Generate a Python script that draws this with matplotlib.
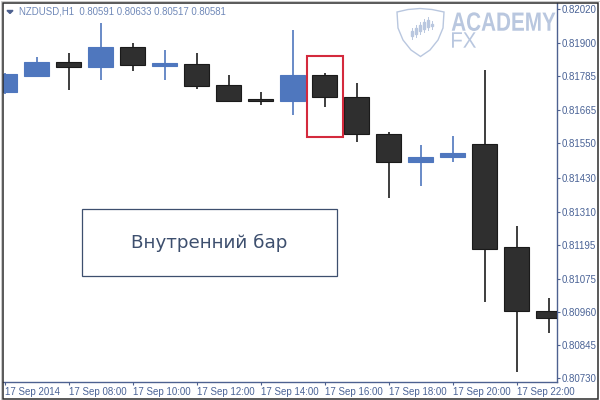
import numpy as np
import matplotlib.pyplot as plt
from matplotlib.patches import Rectangle, Polygon, PathPatch
from matplotlib.textpath import TextPath
from matplotlib.font_manager import FontProperties
from matplotlib.transforms import Affine2D, IdentityTransform

# hourly NZDUSD candles, 17 Sep 2014 06:00 .. 23:00
hours = [6, 7, 8, 9, 10, 11, 12, 13, 14, 15, 16, 17, 18, 19, 20, 21, 22, 23]
opens = [0.81731, 0.81787, 0.81835, 0.81818, 0.81887, 0.81822, 0.81828, 0.81754, 0.81706,
         0.81699, 0.81789, 0.81712, 0.81582, 0.81486, 0.81503, 0.81548, 0.81186, 0.80963]
highs = [0.81795, 0.81852, 0.81866, 0.81971, 0.81901, 0.81877, 0.81866, 0.81789, 0.81730,
         0.81947, 0.81796, 0.81761, 0.81589, 0.81544, 0.81576, 0.81807, 0.81261, 0.81008]
lows = [0.81723, 0.81787, 0.81738, 0.81773, 0.81804, 0.81773, 0.81741, 0.81698, 0.81685,
        0.81650, 0.81678, 0.81556, 0.81360, 0.81402, 0.81486, 0.80996, 0.80751, 0.80887]
closes = [0.81793, 0.81835, 0.81818, 0.81887, 0.81825, 0.81831, 0.81752, 0.81699, 0.81699,
          0.81789, 0.81713, 0.81582, 0.81486, 0.81502, 0.81516, 0.81179, 0.80962, 0.80940]

price_ticks = [0.82020, 0.81900, 0.81785, 0.81665, 0.81550, 0.81430,
               0.81310, 0.81195, 0.81075, 0.80960, 0.80845, 0.80730]
time_ticks = [6, 8, 10, 12, 14, 16, 18, 20, 22]
time_labels = ['17 Sep 2014', '17 Sep 08:00', '17 Sep 10:00', '17 Sep 12:00', '17 Sep 14:00',
               '17 Sep 16:00', '17 Sep 18:00', '17 Sep 20:00', '17 Sep 22:00']

header = 'NZDUSD,H1  0.80591 0.80633 0.80517 0.80581'
note = 'Внутренний бар'

bull = '#4f77be'
bear = '#2f2f2f'
axis_col = '#4d6190'
label_col = '#4a6396'
wm_col = '#b9c7df'

W, H = 600, 400
fig = plt.figure(figsize=(6, 4), dpi=100)


def px(x, y):
    # pixel coords (from top-left) -> figure fraction
    return x / W, 1 - y / H


def fit_text(s, x0, y0, x1, y1, weight='normal'):
    # text outline stretched into a pixel box (top-left origin)
    tp = TextPath((0, 0), s, size=10, prop=FontProperties(family='Liberation Sans', weight=weight))
    b = tp.get_extents()
    sx = (x1 - x0) / b.width
    sy = (y1 - y0) / b.height
    tr = Affine2D().translate(-b.x0, -b.y0).scale(sx, sy).translate(x0, H - y1) + IdentityTransform()
    fig.patches.append(PathPatch(tp, transform=tr, facecolor=wm_col, edgecolor='none'))


ax = fig.add_axes([3 / W, 1 - 381.7 / H, (556.7 - 3) / W, (381.7 - 3) / H])
ax.set_xlim(5.953, 5.953 + 553.7 / 32)
ax.set_ylim(0.80716, 0.82041)

bw = 25 / 32
for h, o, hi, lo, c in zip(hours, opens, highs, lows, closes):
    up = c >= o
    col = bull if up else bear
    ax.plot([h, h], [lo, hi], color=col if up else '#1e1e1e', lw=1.2, solid_capstyle='butt', zorder=2)
    bottom = min(o, c)
    height = max(abs(c - o), 0.00007)
    ax.add_patch(Rectangle((h - bw / 2, bottom), bw, height, facecolor=col,
                           edgecolor=col if up else '#1a1a1a', lw=0.8, zorder=3))

ax.yaxis.tick_right()
ax.set_yticks(price_ticks)
ax.set_yticklabels(['%.5f' % p for p in price_ticks])
ax.set_xticks(time_ticks)
ax.set_xticklabels(time_labels, ha='left')
ax.tick_params(axis='both', direction='out', length=2.2, width=0.8, color=axis_col,
               labelcolor=label_col, labelsize=7, pad=1.5)
for lab in ax.get_xticklabels() + ax.get_yticklabels():
    lab.set_fontfamily('Liberation Sans')
for side in ['right', 'bottom']:
    ax.spines[side].set_color(axis_col)
    ax.spines[side].set_linewidth(1.0)
for side in ['left', 'top']:
    ax.spines[side].set_visible(False)

# outer frame
fig.patches.append(Rectangle(px(0.5, 399.5), 599 / W, 399 / H, transform=fig.transFigure,
                             fill=False, edgecolor='#c8c8c8', lw=0.7))
fig.patches.append(Rectangle(px(3, 398.5), 595 / W, 395.5 / H, transform=fig.transFigure,
                             fill=False, edgecolor='#2c2c2c', lw=1.1, zorder=5))

# header
fig.patches.append(Polygon([px(7, 10.5), px(13, 10.5), px(10, 13.5)], closed=True,
                           transform=fig.transFigure, color='#4d6190'))
fig.text(*px(19, 12), header, color='#6f88b8', fontsize=6.9, family='Liberation Sans',
         va='center', ha='left')

# inside bar marker
x0, y0 = px(306.7, 136.7)
fig.patches.append(Rectangle((x0, y0), (343.3 - 306.7) / W, (136.7 - 55.7) / H,
                             transform=fig.transFigure, fill=False, edgecolor='#d42a3d', lw=1.5, zorder=6))

# note box
x0, y0 = px(81.7, 276.3)
fig.patches.append(Rectangle((x0, y0), (337.3 - 81.7) / W, (276.3 - 209.3) / H,
                             transform=fig.transFigure, facecolor='white', edgecolor='#3d4f6e', lw=0.9, zorder=6))
fig.text(*px(209.5, 243), note, color='#3d4f6e', fontsize=13.2, ha='center', va='center', zorder=7)

# watermark logo
shield = [px(397, 12), px(408, 9.5), px(420, 8.5), px(432, 9.5), px(444, 12),
          px(443, 28), px(438, 40), px(430, 50), px(420.5, 56.5), px(411, 50),
          px(403, 40), px(398, 28)]
fig.patches.append(Polygon(shield, closed=True, transform=fig.transFigure, fill=False,
                           edgecolor=wm_col, lw=1.0))
mini_x = [412, 416, 420, 424, 428, 432]
mini_lo = [36, 34, 31, 29, 27, 26]
mini_hi = [31, 28, 25, 22, 20, 24]
for mx, lo, hi in zip(mini_x, mini_lo, mini_hi):
    fig.lines.append(plt.Line2D([mx / W, mx / W], [1 - (lo + 3) / H, 1 - (hi - 3) / H],
                                transform=fig.transFigure, color=wm_col, lw=0.7))
    fig.patches.append(Rectangle(px(mx - 1.3, lo), 2.6 / W, (lo - hi) / H,
                                 transform=fig.transFigure, color=wm_col))
fit_text('ACADEMY', 451.7, 12.3, 555.5, 31, weight='bold')
fit_text('FX', 452, 32.3, 476, 47.7)

fig.savefig('out.png', dpi=100)
